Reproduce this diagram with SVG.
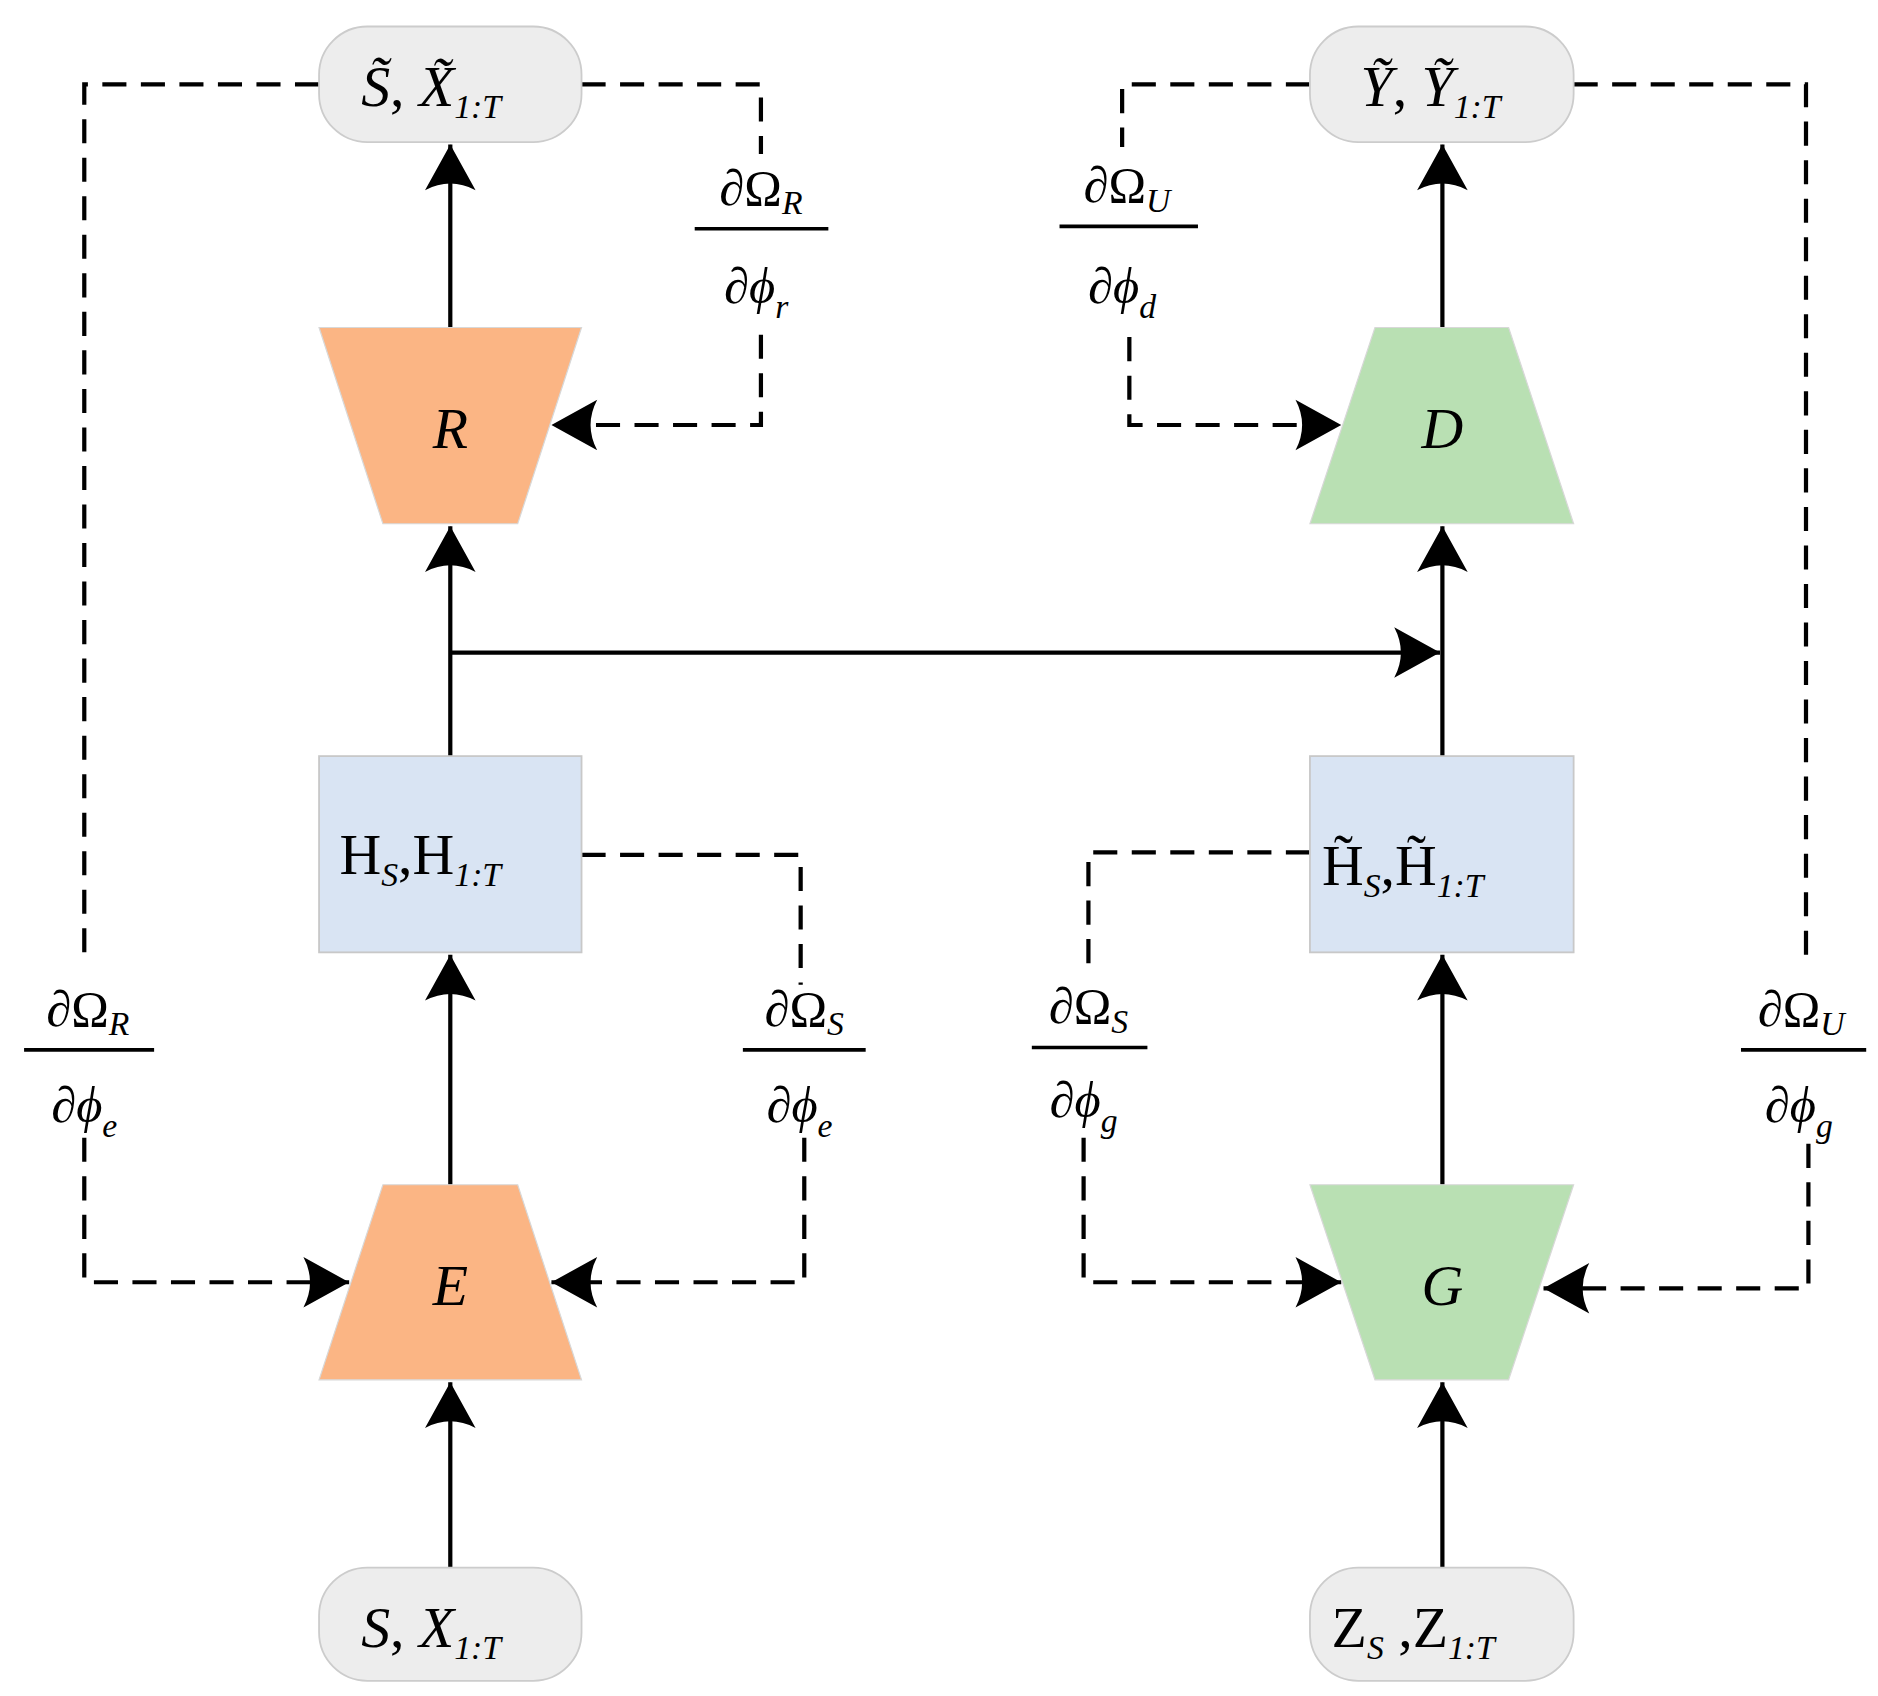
<svg xmlns="http://www.w3.org/2000/svg" width="1878" height="1696" viewBox="0 0 1878 1696">
<style>
.pill{fill:#EDEDED;stroke:#CCCCCC;stroke-width:1.5}
.org{fill:#FBB584;stroke:#D8D8D8;stroke-width:1}
.grn{fill:#B9E0B3;stroke:#D8D8D8;stroke-width:1}
.box{fill:#D9E4F3;stroke:#C8C8C8;stroke-width:1.5}
.s{fill:none;stroke:#000;stroke-width:3.5}
.d{fill:none;stroke:#000;stroke-width:3.5;stroke-dasharray:20,12}
text{font-family:"Liberation Serif","Times New Roman",serif;fill:#000}
.it{font-style:italic}
.big{font-size:48px}
.fr{font-size:42px;text-anchor:middle}
.sub{font-size:28px;font-style:italic}
</style>
<defs>
<marker id="ah" markerUnits="userSpaceOnUse" markerWidth="50" markerHeight="50" viewBox="-40 -25 45 50" refX="0" refY="0" orient="auto">
<path d="M0,0 L-38,-21 Q-27,0 -38,21 Z" fill="#000"/>
</marker>
</defs>
<rect width="1878" height="1696" fill="#fff"/>
<g transform="scale(1.204)">
<g id="connectors">
<path class="s" d="M374,272 V120" marker-end="url(#ah)"/>
<path class="s" d="M374,628 V437" marker-end="url(#ah)"/>
<path class="s" d="M374,542 H1196" marker-end="url(#ah)"/>
<path class="s" d="M374,984 V793" marker-end="url(#ah)"/>
<path class="s" d="M374,1302 V1148" marker-end="url(#ah)"/>
<path class="s" d="M1198,272 V120" marker-end="url(#ah)"/>
<path class="s" d="M1198,628 V437" marker-end="url(#ah)"/>
<path class="s" d="M1198,984 V793" marker-end="url(#ah)"/>
<path class="s" d="M1198,1302 V1148" marker-end="url(#ah)"/>
<path class="d" d="M265,70 H70 V795"/>
<path class="d" d="M70,945 V1065 H290" marker-end="url(#ah)"/>
<path class="d" d="M483,70 H632 V128"/>
<path class="d" d="M632,278 V353 H458" marker-end="url(#ah)"/>
<path class="d" d="M483,710 H665 V818"/>
<path class="d" d="M668,945 V1065 H458" marker-end="url(#ah)"/>
<path class="d" d="M1088,70 H932 V122"/>
<path class="d" d="M938,280 V353 H1114" marker-end="url(#ah)"/>
<path class="d" d="M1307,70 H1500 V800"/>
<path class="d" d="M1502,950 V1070 H1282" marker-end="url(#ah)"/>
<path class="d" d="M1088,708 H904 V800"/>
<path class="d" d="M900,945 V1065 H1114" marker-end="url(#ah)"/>
</g>
<g id="in-left"><rect class="pill" x="265" y="1302" width="218" height="94" rx="40"/>
<text x="300" y="1368" class="big it">S<tspan font-style="normal">, </tspan>X<tspan class="sub" dy="10">1:T</tspan></text></g>
<g id="in-right"><rect class="pill" x="1088" y="1302" width="219" height="94" rx="40"/>
<text x="1106" y="1368" class="big">Z<tspan class="sub" dy="10">S</tspan><tspan dy="-10"> ,Z</tspan><tspan class="sub" dy="10">1:T</tspan></text></g>
<g id="out-left"><rect class="pill" x="265" y="22" width="218" height="96" rx="40"/>
<text x="300" y="88" class="big it">S̃<tspan font-style="normal">, </tspan>X̃<tspan class="sub" dy="10">1:T</tspan></text></g>
<g id="out-right"><rect class="pill" x="1088" y="22" width="219" height="96" rx="40"/>
<text x="1130" y="88" class="big it">Ỹ<tspan font-style="normal">, </tspan>Ỹ<tspan class="sub" dy="10">1:T</tspan></text></g>
<g id="R"><polygon class="org" points="265,272 483,272 430,435 318,435"/><text x="374" y="372" class="big it" text-anchor="middle">R</text></g>
<g id="E"><polygon class="org" points="318,984 430,984 483,1146 265,1146"/><text x="374" y="1084" class="big it" text-anchor="middle">E</text></g>
<g id="D"><polygon class="grn" points="1142,272 1253,272 1307,435 1088,435"/><text x="1198" y="372" class="big it" text-anchor="middle">D</text></g>
<g id="G"><polygon class="grn" points="1088,984 1307,984 1253,1146 1142,1146"/><text x="1198" y="1084" class="big it" text-anchor="middle">G</text></g>
<g id="H-left"><rect class="box" x="265" y="628" width="218" height="163"/>
<text x="282" y="726" class="big">H<tspan class="sub" dy="10">S</tspan><tspan dy="-10">,H</tspan><tspan class="sub" dy="10">1:T</tspan></text></g>
<g id="H-right"><rect class="box" x="1088" y="628" width="219" height="163"/>
<text x="1098" y="735" class="big">H̃<tspan class="sub" dy="10">S</tspan><tspan dy="-10">,H̃</tspan><tspan class="sub" dy="10">1:T</tspan></text></g>
<g id="labels">
<line x1="577" y1="190" x2="688" y2="190" stroke="#000" stroke-width="3"/>
<text x="632" y="170" class="fr">∂Ω<tspan class="sub" dy="8">R</tspan></text>
<text x="628" y="252" class="fr">∂<tspan font-style="italic">ϕ</tspan><tspan class="sub" dy="12">r</tspan></text>
<line x1="880" y1="188" x2="995" y2="188" stroke="#000" stroke-width="3"/>
<text x="936" y="168" class="fr">∂Ω<tspan class="sub" dy="8">U</tspan></text>
<text x="932" y="252" class="fr">∂<tspan font-style="italic">ϕ</tspan><tspan class="sub" dy="12">d</tspan></text>
<line x1="20" y1="872" x2="128" y2="872" stroke="#000" stroke-width="3"/>
<text x="73" y="852" class="fr">∂Ω<tspan class="sub" dy="8">R</tspan></text>
<text x="70" y="932" class="fr">∂<tspan font-style="italic">ϕ</tspan><tspan class="sub" dy="12">e</tspan></text>
<line x1="617" y1="872" x2="719" y2="872" stroke="#000" stroke-width="3"/>
<text x="668" y="852" class="fr">∂Ω<tspan class="sub" dy="8">S</tspan></text>
<text x="664" y="932" class="fr">∂<tspan font-style="italic">ϕ</tspan><tspan class="sub" dy="12">e</tspan></text>
<line x1="857" y1="870" x2="953" y2="870" stroke="#000" stroke-width="3"/>
<text x="904" y="850" class="fr">∂Ω<tspan class="sub" dy="8">S</tspan></text>
<text x="900" y="928" class="fr">∂<tspan font-style="italic">ϕ</tspan><tspan class="sub" dy="12">g</tspan></text>
<line x1="1446" y1="872" x2="1550" y2="872" stroke="#000" stroke-width="3"/>
<text x="1496" y="852" class="fr">∂Ω<tspan class="sub" dy="8">U</tspan></text>
<text x="1494" y="932" class="fr">∂<tspan font-style="italic">ϕ</tspan><tspan class="sub" dy="12">g</tspan></text>
</g>
</g>
</svg>
